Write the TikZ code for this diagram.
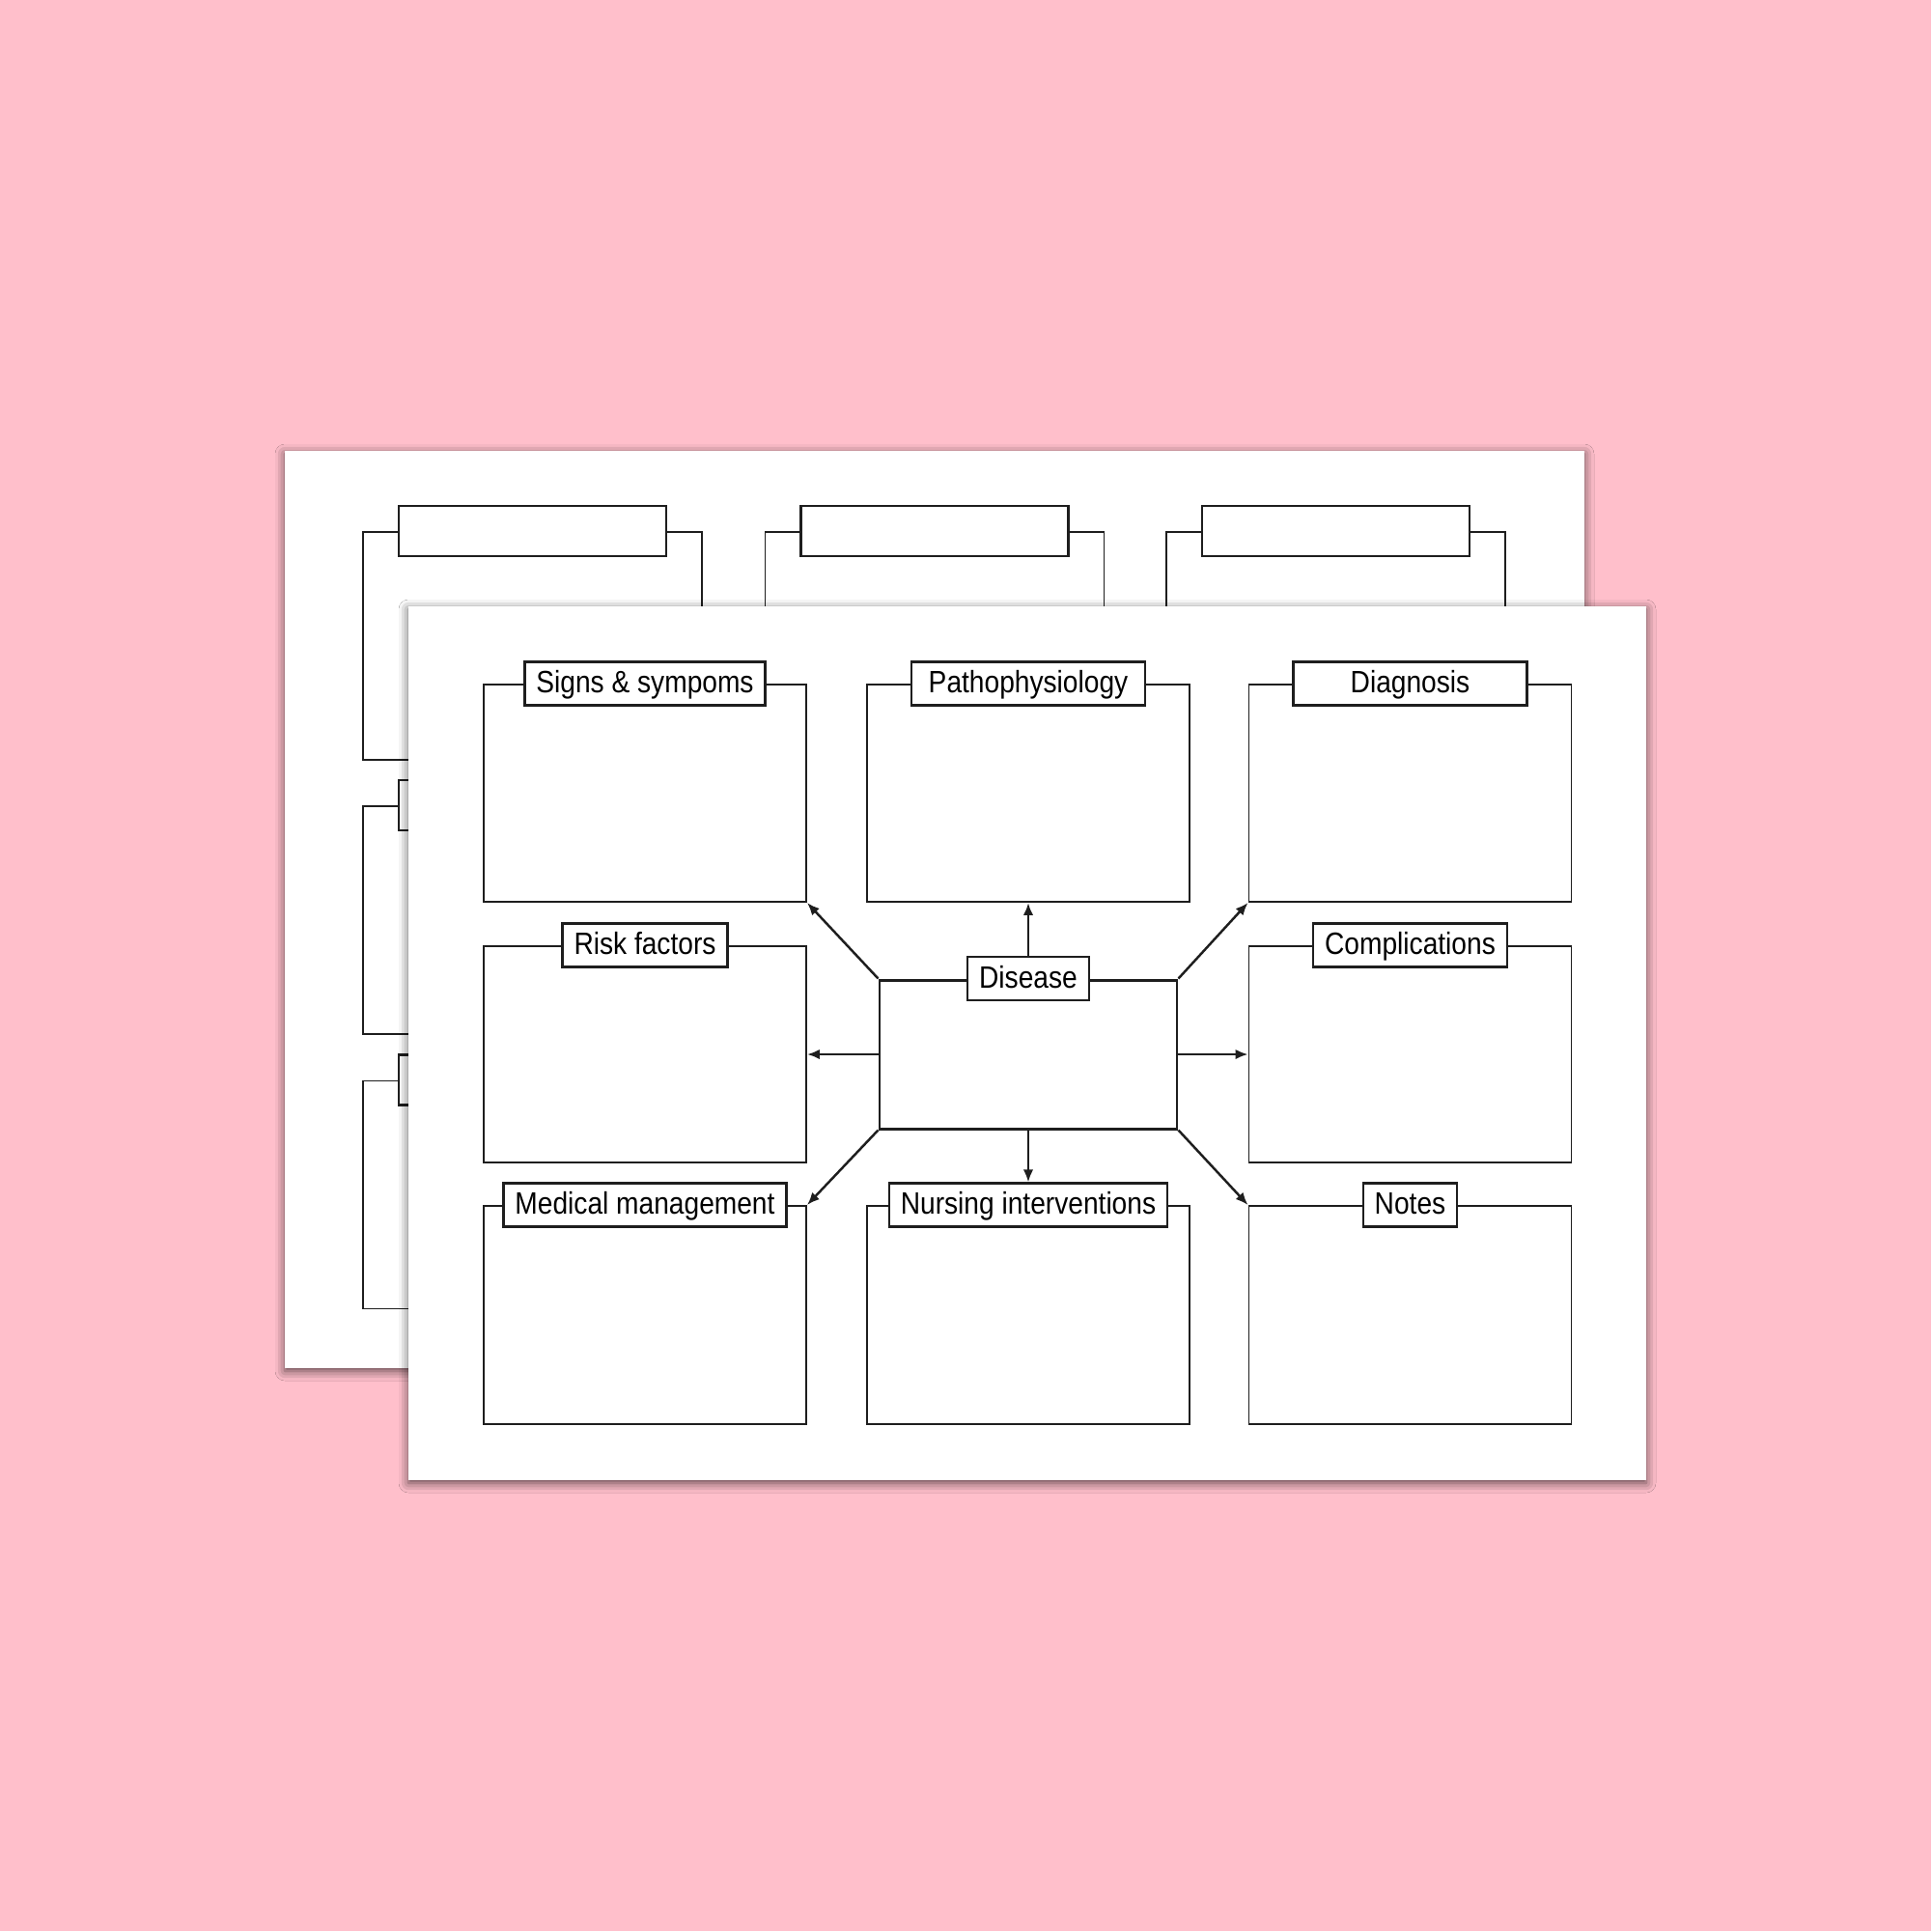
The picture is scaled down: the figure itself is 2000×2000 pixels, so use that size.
\documentclass[tikz,border=0pt]{standalone}
\usepackage{fontspec}
\setmainfont{Liberation Sans}[FakeStretch=0.88]
\usetikzlibrary{arrows.meta,shadows.blur}

\definecolor{rosa}{RGB}{255,191,203}
\definecolor{ink}{RGB}{30,30,30}

\tikzset{
  sheet/.style={fill=white,inner sep=0pt,blur shadow={shadow xshift=0mm,shadow yshift=-0.3mm,shadow blur radius=1mm,shadow blur extra rounding=0mm,shadow opacity=65}},
  box/.style={draw=ink,line width=0.55pt,fill=white,inner sep=0pt},
  tag/.style={draw=ink,line width=0.65pt,fill=white,inner xsep=1.2mm,inner ysep=0.6mm,text height=2.6mm,text depth=0.7mm,font=\fontsize{9.1pt}{10pt}\selectfont},
  link/.style={draw=ink,line width=0.7pt,-{Latex[length=1.3mm,width=1.05mm]}}
}

\begin{document}
\begin{tikzpicture}[x=0.1mm,y=-0.1mm]
\fill[rosa] (0,0) rectangle (2000,2000);
% sheet behind
\node[sheet,minimum width=134.6mm,minimum height=95mm] (back) at (968,942) {};
\foreach \x [count=\i] in {551.5,968,1383.5}
  \foreach \y [count=\j] in {669,953,1237.5} {
    \node[box,minimum width=35.1mm,minimum height=23.6mm] (b\i\j) at (\x,\y) {};
    \node[box,line width=0.65pt,minimum width=27.7mm,minimum height=5.2mm] (bt\i\j) at (b\i\j.north) {};
  }
% sheet in front
\node[sheet,minimum width=128.2mm,minimum height=90.5mm] (front) at (1064,1080.5) {};
\node[box,minimum width=33.4mm,minimum height=22.5mm] (sy) at (668,821.5) {};
\node[box,minimum width=33.4mm,minimum height=22.5mm] (pa) at (1065,821.5) {};
\node[box,minimum width=33.4mm,minimum height=22.5mm] (di) at (1460.5,821.5) {};
\node[box,minimum width=33.4mm,minimum height=22.4mm] (ri) at (668,1092) {};
\node[box,minimum width=33.4mm,minimum height=22.4mm] (co) at (1460.5,1092) {};
\node[box,minimum width=33.4mm,minimum height=22.6mm] (me) at (668,1362) {};
\node[box,minimum width=33.4mm,minimum height=22.6mm] (nu) at (1065,1362) {};
\node[box,minimum width=33.4mm,minimum height=22.6mm] (no) at (1460.5,1362) {};
\node[box,line width=0.85pt,minimum width=30.8mm,minimum height=15.4mm] (d) at (1065,1092) {};
\path (sy.north) node[tag,minimum width=24.2mm] (syt) {Signs \& sympoms}
      (pa.north) node[tag,minimum width=24.2mm] (pat) {Pathophysiology}
      (di.north) node[tag,minimum width=24.2mm] (dit) {Diagnosis}
      (ri.north) node[tag] (rit) {Risk factors}
      (co.north) node[tag] (cot) {Complications}
      (me.north) node[tag] (met) {Medical management}
      (nu.north) node[tag] (nut) {Nursing interventions}
      (no.north) node[tag] (not) {Notes}
      (d.north) node[tag] (dt) {Disease}
      ;
\draw[link] (d.north west) -- (sy.south east);
\draw[link] (dt.north) -- (pa.south);
\draw[link] (d.north east) -- (di.south west);
\draw[link] (d.west) -- (ri.east);
\draw[link] (d.east) -- (co.west);
\draw[link] (d.south west) -- (me.north east);
\draw[link] (d.south) -- (nut.north);
\draw[link] (d.south east) -- (no.north west);
\end{tikzpicture}
\end{document}
